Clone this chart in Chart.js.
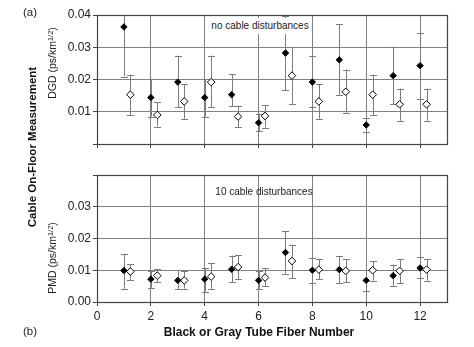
<!DOCTYPE html>
<html>
<head>
<meta charset="utf-8">
<script src="https://cdn.jsdelivr.net/npm/chart.js@4"></script>
<style>
body { margin: 0; background: #fff; font-family: "Liberation Sans", Arial, sans-serif; }
#wrap { position: relative; width: 474px; height: 347px; overflow: hidden; }
canvas { position: absolute; left: 0; }
.lbl { position: absolute; white-space: nowrap; color: #222; line-height: 1; }
.ctr { transform: translate(-50%, -50%); }
.rot { transform: translate(-50%, -50%) rotate(-90deg); }
sup { font-size: 0.7em; vertical-align: 0.45em; }
</style>
</head>
<body>
<div id="wrap">
  <canvas id="topChart" width="474" height="160" style="top:0"></canvas>
  <canvas id="botChart" width="474" height="187" style="top:160px"></canvas>

  <div class="lbl ctr" style="left:30px;top:13px;font-size:11.5px">(a)</div>
  <div class="lbl ctr" style="left:30px;top:332px;font-size:11.5px">(b)</div>
  <div class="lbl rot" style="left:33px;top:147px;font-size:11.5px;font-weight:bold;color:#111">Cable On-Floor Measurement</div>
  <div class="lbl rot" style="left:52px;top:63px;font-size:10.5px">DGD (ps/km<sup>1/2</sup>)</div>
  <div class="lbl rot" style="left:52px;top:258px;font-size:10.5px">PMD (ps/km<sup>1/2</sup>)</div>
  <div class="lbl ctr" style="left:260px;top:26px;font-size:10px;background:#fff;padding:3px 2px">no cable disturbances</div>
  <div class="lbl ctr" style="left:264px;top:192px;font-size:10px">10 cable disturbances</div>
  <div class="lbl ctr" style="left:259px;top:332px;font-size:12px;font-weight:bold;color:#111">Black or Gray Tube Fiber Number</div>
</div>

<script>
// fiber numbers (black tube at n, gray tube drawn slightly to the right)
const fiberNo = [1, 2, 3, 4, 5, 6, 7, 8, 9, 10, 11, 12];
const grayShift = 0.24;

// (a) DGD, no cable disturbances
const dgdBlack     = [0.0363, 0.0144, 0.0192, 0.0144, 0.0153, 0.0066, 0.0282, 0.0192, 0.0261, 0.0059, 0.0212, 0.0243];
const dgdBlackLow  = [0.0209, 0.0085, 0.0114, 0.0085, 0.0118, 0.0039, 0.0167, 0.0114, 0.0153, 0.0036, 0.0124, 0.0141];
const dgdBlackHigh = [0.0517, 0.0202, 0.0274, 0.0202, 0.0216, 0.0094, 0.0398, 0.0274, 0.0372, 0.0081, 0.0302, 0.0345];
const dgdGray      = [0.0153, 0.0090, 0.0132, 0.0192, 0.0085, 0.0087, 0.0212, 0.0132, 0.0162, 0.0153, 0.0123, 0.0123];
const dgdGrayLow   = [0.0090, 0.0054, 0.0078, 0.0114, 0.0053, 0.0051, 0.0124, 0.0078, 0.0097, 0.0090, 0.0072, 0.0072];
const dgdGrayHigh  = [0.0215, 0.0129, 0.0186, 0.0274, 0.0119, 0.0120, 0.0301, 0.0186, 0.0231, 0.0215, 0.0172, 0.0172];

// (b) PMD, 10 cable disturbances
const pmdBlack     = [0.0099, 0.0072, 0.0068, 0.0072, 0.0103, 0.0068, 0.0156, 0.0100, 0.0102, 0.0068, 0.0083, 0.0107];
const pmdBlackLow  = [0.0042, 0.0045, 0.0041, 0.0033, 0.0062, 0.0041, 0.0089, 0.0059, 0.0059, 0.0036, 0.0051, 0.0075];
const pmdBlackHigh = [0.0152, 0.0098, 0.0100, 0.0107, 0.0146, 0.0098, 0.0224, 0.0138, 0.0144, 0.0100, 0.0118, 0.0141];
const pmdGray      = [0.0096, 0.0083, 0.0068, 0.0080, 0.0110, 0.0077, 0.0129, 0.0102, 0.0098, 0.0100, 0.0098, 0.0102];
const pmdGrayLow   = [0.0068, 0.0062, 0.0042, 0.0042, 0.0072, 0.0051, 0.0075, 0.0072, 0.0062, 0.0067, 0.0059, 0.0067];
const pmdGrayHigh  = [0.0119, 0.0103, 0.0097, 0.0122, 0.0148, 0.0106, 0.0180, 0.0134, 0.0134, 0.0128, 0.0135, 0.0135];

const yTicks = [0, 0.01, 0.02, 0.03, 0.04];
const xTickStep = 2;

const GRID = '#808080';
const AXIS = '#444';
const TEXT = '#222';

// error bars drawn under the markers
const errorBarPlugin = {
    id: 'errorBars',
    beforeDatasetsDraw(chart) {
        const { ctx, chartArea: a, scales: { x, y } } = chart;
        ctx.save();
        ctx.beginPath();
        ctx.rect(a.left, a.top, a.right - a.left, a.bottom - a.top);
        ctx.clip();
        ctx.strokeStyle = '#7c7c7c';
        ctx.lineWidth = 1;
        chart.data.datasets.forEach(ds => {
            ds.data.forEach((p, j) => {
                const px = Math.round(x.getPixelForValue(p.x)) + 0.5;
                const yl = y.getPixelForValue(ds.errLow[j]);
                const yh = y.getPixelForValue(ds.errHigh[j]);
                ctx.beginPath();
                ctx.moveTo(px, yl); ctx.lineTo(px, yh);
                ctx.moveTo(px - 3.5, Math.round(yl) + 0.5); ctx.lineTo(px + 3.5, Math.round(yl) + 0.5);
                ctx.moveTo(px - 3.5, Math.round(yh) + 0.5); ctx.lineTo(px + 3.5, Math.round(yh) + 0.5);
                ctx.stroke();
            });
        });
        ctx.restore();
    }
};

const boxPlugin = {
    id: 'box',
    afterDraw(chart) {
        const { ctx, chartArea: a } = chart;
        ctx.save();
        ctx.strokeStyle = AXIS;
        ctx.lineWidth = 1.2;
        ctx.strokeRect(Math.round(a.left) + 0.5, Math.round(a.top) + 0.5, Math.round(a.right - a.left), Math.round(a.bottom - a.top));
        ctx.restore();
    }
};

function makePanel(id, black, blackLow, blackHigh, gray, grayLow, grayHigh, hideTick, showX, xHeight) {
    const ctx = document.getElementById(id).getContext('2d');
    return new Chart(ctx, {
        type: 'scatter',
        data: {
            datasets: [
                {
                    label: 'black',
                    data: fiberNo.map((n, i) => ({ x: n, y: black[i] })),
                    errLow: blackLow, errHigh: blackHigh,
                    pointStyle: 'rectRot', pointRadius: 3.2,
                    backgroundColor: '#000', borderColor: '#000', borderWidth: 1
                },
                {
                    label: 'gray',
                    data: fiberNo.map((n, i) => ({ x: n + grayShift, y: gray[i] })),
                    errLow: grayLow, errHigh: grayHigh,
                    pointStyle: 'rectRot', pointRadius: 3.8,
                    backgroundColor: '#fff', borderColor: '#000', borderWidth: 1
                }
            ]
        },
        options: {
            responsive: false,
            animation: false,
            devicePixelRatio: 1,
            layout: { padding: { left: 0, right: 27, top: 15, bottom: 0 } },
            plugins: { legend: { display: false }, tooltip: { enabled: false } },
            scales: {
                x: {
                    type: 'linear', min: 0, max: 13,
                    afterFit: s => { s.height = xHeight; },
                    grid: { color: GRID, lineWidth: 1, tickLength: 4, tickColor: AXIS },
                    border: { color: AXIS },
                    ticks: {
                        display: showX, stepSize: xTickStep, includeBounds: false,
                        padding: 3, color: TEXT,
                        font: { family: '"Liberation Sans", Arial, sans-serif', size: 12 },
                        callback: v => (v % xTickStep === 0 ? v : '')
                    }
                },
                y: {
                    min: yTicks[0], max: yTicks[yTicks.length - 1],
                    afterFit: s => { s.width = 97; },
                    afterBuildTicks: s => { s.ticks = yTicks.map(v => ({ value: v })); },
                    grid: { color: GRID, lineWidth: 1, tickLength: 4, tickColor: AXIS },
                    border: { color: AXIS },
                    ticks: {
                        padding: 2, color: TEXT,
                        font: { family: '"Liberation Sans", Arial, sans-serif', size: 12 },
                        callback: v => (Math.abs(v - hideTick) < 1e-9 ? '' : v.toFixed(2))
                    }
                }
            }
        },
        plugins: [errorBarPlugin, boxPlugin]
    });
}

makePanel('topChart', dgdBlack, dgdBlackLow, dgdBlackHigh, dgdGray, dgdGrayLow, dgdGrayHigh, 0, false, 16);
makePanel('botChart', pmdBlack, pmdBlackLow, pmdBlackHigh, pmdGray, pmdGrayLow, pmdGrayHigh, 0.04, true, 45);
</script>
</body>
</html>
